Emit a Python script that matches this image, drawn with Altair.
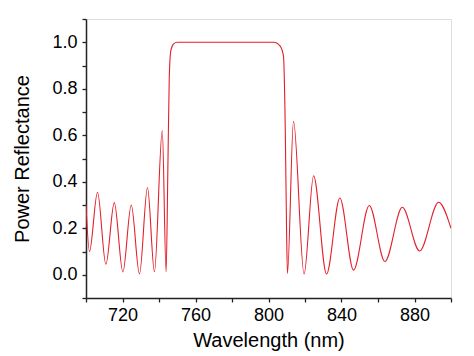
import altair as alt
import pandas as pd

# Wavelength (nm) and power reflectance
wavelength = [700.0, 701.9, 706.3, 710.9, 715.5, 720.2, 724.8, 729.3, 733.7, 737.5,
              741.8, 743.9, 744.9, 745.6, 746.5, 748.0, 750.0, 803.0, 806.4, 808.2,
              809.2, 809.9, 810.4, 813.7, 819.5, 824.7, 831.8, 839.1, 846.6, 855.2,
              863.8, 873.3, 882.8, 893.2, 900.0]
reflectance = [0.30, 0.10, 0.355, 0.045, 0.31, 0.012, 0.30, 0.003, 0.375, 0.013,
               0.62, 0.013, 0.48, 0.84, 0.965, 0.993, 1.0, 1.0, 0.983, 0.94,
               0.62, 0.19, 0.006, 0.66, 0.003, 0.426, 0.003, 0.33, 0.02, 0.298,
               0.057, 0.29, 0.102, 0.312, 0.20]

x_ticks = [700, 720, 740, 760, 780, 800, 820, 840, 860, 880, 900]
y_ticks = [-0.1, 0.0, 0.1, 0.2, 0.3, 0.4, 0.5, 0.6, 0.7, 0.8, 0.9, 1.0, 1.1]

df = pd.DataFrame({"wl": wavelength, "R": reflectance})

FONT = "Liberation Sans"

chart = alt.Chart(df).mark_line(
    color="#e41f29", strokeWidth=1.1, interpolate="monotone", clip=True
).encode(
    x=alt.X("wl:Q", scale=alt.Scale(domain=[700, 900], nice=False, zero=False),
            axis=alt.Axis(title="Wavelength (nm)", values=x_ticks,
                          labelExpr="(datum.value - 720) % 40 == 0 ? datum.label : ''",
                          format="d", grid=False, tickSize=4, tickWidth=1.3,
                          tickColor="#222222", domainColor="#222222", domainWidth=1.5,
                          labelFontSize=18, labelPadding=4, titleFontSize=20,
                          titleFontWeight="normal", titlePadding=6,
                          labelColor="#000000", titleColor="#000000")),
    y=alt.Y("R:Q", scale=alt.Scale(domain=[-0.1, 1.1], nice=False, zero=False),
            axis=alt.Axis(title="Power Reflectance", values=y_ticks,
                          labelExpr="(abs(round(datum.value*10)) % 2 == 0 && datum.value > -0.05 && datum.value < 1.05) ? format(datum.value, '.1f') : ''",
                          grid=False, tickSize=4, tickWidth=1.3,
                          tickColor="#222222", domainColor="#222222", domainWidth=1.5,
                          labelFontSize=18, labelPadding=5, titleFontSize=20,
                          titleFontWeight="normal", titlePadding=19,
                          labelColor="#000000", titleColor="#000000")),
).properties(
    width=365, height=279,
    autosize=alt.AutoSizeParams(type="none"),
    padding={"left": 78, "top": 11, "right": 15, "bottom": 58},
).configure_view(
    stroke="#c4c4c4", strokeWidth=1.5
).configure(font=FONT)

chart.save("out.html", embed_options={"renderer": "svg", "actions": False})
